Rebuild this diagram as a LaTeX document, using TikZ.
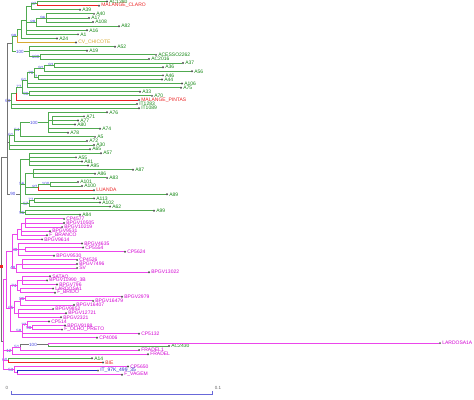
\documentclass[tikz,border=0pt]{standalone}
\usepackage{fontspec}
\newfontfamily\treefont{Liberation Sans}
\definecolor{brgreen}{RGB}{80,170,80}
\definecolor{txgreen}{RGB}{20,135,20}
\definecolor{brred}{RGB}{235,35,35}
\definecolor{brmag}{RGB}{235,70,235}
\definecolor{txmag}{RGB}{210,0,210}
\definecolor{brolive}{RGB}{215,170,50}
\definecolor{brblue}{RGB}{40,40,200}
\definecolor{bootblue}{RGB}{70,70,225}
\definecolor{rootgrey}{RGB}{115,115,115}
\begin{document}
\begin{tikzpicture}
	[x=1pt, y=-4.1pt,
	leaf/.style={circle,inner sep=0pt,minimum size=2.2pt,fill=black!70},
	gbr/.style={draw=brgreen,line width=0.9pt},
	rbr/.style={draw=brred,line width=0.9pt},
	mbr/.style={draw=brmag,line width=0.9pt},
	obr/.style={draw=brolive,line width=0.9pt},
	bbr/.style={draw=brblue,line width=0.9pt},
	rootbr/.style={draw=rootgrey,line width=0.9pt},
	gtx/.style={text=txgreen,font=\treefont\fontsize{5}{5}\selectfont,inner sep=0.2pt,label distance=0.6pt},
	rtx/.style={text=brred,font=\treefont\fontsize{5}{5}\selectfont,inner sep=0.2pt,label distance=0.6pt},
	mtx/.style={text=txmag,font=\treefont\fontsize{5}{5}\selectfont,inner sep=0.2pt,label distance=0.6pt},
	otx/.style={text=brolive,font=\treefont\fontsize{5}{5}\selectfont,inner sep=0.2pt,label distance=0.6pt},
	btx/.style={text=brblue,font=\treefont\fontsize{5}{5}\selectfont,inner sep=0.2pt,label distance=0.6pt},
	boot/.style={text=bootblue,font=\treefont\fontsize{4.5}{5}\selectfont,inner sep=0.3pt}]
	\useasboundingbox (0,0.61) rectangle (474,97.93);
	% leaves, green group
	\node (a1380) at (107,1) [leaf,label={[gtx]right:AC1380}] {};
	\node (mclaro) at (99,2) [leaf,label={[rtx]right:MALANGE\_CLARO}] {};
	\node (a39) at (80,3) [leaf,label={[gtx]right:A39}] {};
	\node (a40) at (94,4) [leaf,label={[gtx]right:A40}] {};
	\node (a17) at (89,5) [leaf,label={[gtx]right:A17}] {};
	\node (a108) at (93,6) [leaf,label={[gtx]right:A108}] {};
	\node (a82) at (119,7) [leaf,label={[gtx]right:A82}] {};
	\node (a16) at (87,8) [leaf,label={[gtx]right:A16}] {};
	\node (a1) at (78,9) [leaf,label={[gtx]right:A1}] {};
	\node (a24) at (57,10) [leaf,label={[gtx]right:A24}] {};
	\node (chicote) at (76,11) [leaf,label={[otx]right:CV\_CHICOTE}] {};
	\node (a52) at (115,12) [leaf,label={[gtx]right:A52}] {};
	\node (a19) at (87,13) [leaf,label={[gtx]right:A19}] {};
	\node (ac2262) at (156,14) [leaf,label={[gtx]right:ACESSO2262}] {};
	\node (ac2016) at (149,15) [leaf,label={[gtx]right:AC2016}] {};
	\node (a37) at (183,16) [leaf,label={[gtx]right:A37}] {};
	\node (a36) at (163,17) [leaf,label={[gtx]right:A36}] {};
	\node (a56) at (192,18) [leaf,label={[gtx]right:A56}] {};
	\node (a46) at (163,19) [leaf,label={[gtx]right:A46}] {};
	\node (a44) at (162,20) [leaf,label={[gtx]right:A44}] {};
	\node (a106) at (182,21) [leaf,label={[gtx]right:A106}] {};
	\node (a75) at (181,22) [leaf,label={[gtx]right:A75}] {};
	\node (a33) at (140,23) [leaf,label={[gtx]right:A33}] {};
	\node (a70) at (152,24) [leaf,label={[gtx]right:A70}] {};
	\node (mpintas) at (139,25) [leaf,label={[rtx]right:MALANGE\_PINTAS}] {};
	\node (it1283) at (137,26) [leaf,label={[gtx]right:IT1283}] {};
	\node (it1089) at (139,27) [leaf,label={[gtx]right:IT1089}] {};
	\node (a76) at (107,28) [leaf,label={[gtx]right:A76}] {};
	\node (a71) at (84,29) [leaf,label={[gtx]right:A71}] {};
	\node (a77) at (78,30) [leaf,label={[gtx]right:A77}] {};
	\node (a80) at (75,31) [leaf,label={[gtx]right:A80}] {};
	\node (a74) at (100,32) [leaf,label={[gtx]right:A74}] {};
	\node (a78) at (68,33) [leaf,label={[gtx]right:A78}] {};
	\node (a5) at (95,34) [leaf,label={[gtx]right:A5}] {};
	\node (a72) at (87,35) [leaf,label={[gtx]right:A72}] {};
	\node (a30) at (94,36) [leaf,label={[gtx]right:A30}] {};
	\node (a65) at (90,37) [leaf,label={[gtx]right:A65}] {};
	\node (a57) at (101,38) [leaf,label={[gtx]right:A57}] {};
	\node (a55) at (76,39) [leaf,label={[gtx]right:A55}] {};
	\node (a81) at (82,40) [leaf,label={[gtx]right:A81}] {};
	\node (a95) at (88,41) [leaf,label={[gtx]right:A95}] {};
	\node (a87) at (133,42) [leaf,label={[gtx]right:A87}] {};
	\node (a86) at (95,43) [leaf,label={[gtx]right:A86}] {};
	\node (a83) at (107,44) [leaf,label={[gtx]right:A83}] {};
	\node (a101) at (78,45) [leaf,label={[gtx]right:A101}] {};
	\node (a100) at (82,46) [leaf,label={[gtx]right:A100}] {};
	\node (luanda) at (94,47) [leaf,label={[rtx]right:LUANDA}] {};
	\node (a89) at (167,48) [leaf,label={[gtx]right:A89}] {};
	\node (a113) at (94,49) [leaf,label={[gtx]right:A113}] {};
	\node (a102) at (100,50) [leaf,label={[gtx]right:A102}] {};
	\node (a62) at (110,51) [leaf,label={[gtx]right:A62}] {};
	\node (a99) at (154,52) [leaf,label={[gtx]right:A99}] {};
	\node (a84) at (80,53) [leaf,label={[gtx]right:A84}] {};
	% leaves, magenta group
	\node (cp4577) at (64,54) [leaf,label={[mtx]right:CP4577}] {};
	\node (bp10505) at (64,55) [leaf,label={[mtx]right:BPGV10505}] {};
	\node (bp10219) at (62,56) [leaf,label={[mtx]right:BPGV10219}] {};
	\node (bp9531) at (50,57) [leaf,label={[mtx]right:BPGV9531}] {};
	\node (fbranco) at (47,58) [leaf,label={[mtx]right:F\_BRANCO}] {};
	\node (bp9614) at (42,59) [leaf,label={[mtx]right:BPGV9614}] {};
	\node (bp4635) at (82,60) [leaf,label={[mtx]right:BPGV4635}] {};
	\node (cp5554) at (83,61) [leaf,label={[mtx]right:CP5554}] {};
	\node (cp5624) at (125,62) [leaf,label={[mtx]right:CP5624}] {};
	\node (bp9530) at (54,63) [leaf,label={[mtx]right:BPGV9530}] {};
	\node (cp4526) at (77,64) [leaf,label={[mtx]right:CP4526}] {};
	\node (bp7496) at (77,65) [leaf,label={[mtx]right:BPGV7496}] {};
	\node (sv) at (77,66) [leaf,label={[mtx]right:SV}] {};
	\node (bp13022) at (149,67) [leaf,label={[mtx]right:BPGV13022}] {};
	\node (satao) at (50,68) [leaf,label={[mtx]right:SATAO}] {};
	\node (bp11990) at (47,69) [leaf,label={[mtx]right:BPGV11990\_3B}] {};
	\node (bp796) at (57,70) [leaf,label={[mtx]right:BPGV796}] {};
	\node (lardosa) at (53,71) [leaf,label={[mtx]right:LARDOSA1}] {};
	\node (fbrido) at (55,72) [leaf,label={[mtx]right:F\_BRIDO}] {};
	\node (bp2979) at (122,73) [leaf,label={[mtx]right:BPGV2979}] {};
	\node (bp16479) at (93,74) [leaf,label={[mtx]right:BPGV16479}] {};
	\node (bp16407) at (74,75) [leaf,label={[mtx]right:BPGV16407}] {};
	\node (bp9852) at (53,76) [leaf,label={[mtx]right:BPGV9852}] {};
	\node (bp12721) at (66,77) [leaf,label={[mtx]right:BPGV12721}] {};
	\node (bp2321) at (61,78) [leaf,label={[mtx]right:BPGV2321}] {};
	\node (cp514) at (49,79) [leaf,label={[mtx]right:CP514}] {};
	\node (bp9188) at (65,80) [leaf,label={[mtx]right:BPGV9188}] {};
	\node (folho) at (62,81) [leaf,label={[mtx]right:F\_OLHO\_PRETO}] {};
	\node (cp5132) at (139,82) [leaf,label={[mtx]right:CP5132}] {};
	\node (cp4006) at (97,83) [leaf,label={[mtx]right:CP4006}] {};
	\node (lardosa1a) at (440,84.3) [leaf,label={[mtx]right:LARDOSA1A}] {};
	\node (ac2430) at (169,85) [leaf,label={[gtx]right:AC2430}] {};
	\node (fradel1) at (139,86) [leaf,label={[mtx]right:FRADEL1}] {};
	\node (fradel) at (148,87) [leaf,label={[mtx]right:FRADEL}] {};
	\node (a14) at (92,88) [leaf,label={[gtx]right:A14}] {};
	\node (bie) at (103,89) [leaf,label={[rtx]right:BIE}] {};
	\node (cp5650) at (128,90) [leaf,label={[mtx]right:CP5650}] {};
	\node (it97k) at (98,91) [leaf,label={[btx]right:IT\_97K\_499\_35}] {};
	\node (fvagem) at (122,92) [leaf,label={[mtx]right:F\_VAGEM}] {};
	% inner nodes, green group
	\coordinate[label={[boot]left:87}] (nA) at (37,1.5);
	\coordinate (nB) at (31,2.25);
	\coordinate[label={[boot]left:96}] (nC) at (46,5);
	\coordinate[label={[boot]left:89}] (nD) at (36,6);
	\coordinate (nE) at (26,5.6);
	\coordinate (nF) at (21,7.8);
	\coordinate[label={[boot]left:99}] (nG) at (17,9.4);
	\coordinate[label={[boot]left:100}] (nH) at (40,14.5);
	\coordinate (nI) at (29,13.25);
	\coordinate (nJ) at (12,11.3);
	\coordinate[label={[boot]left:93}] (nK) at (54,16.5);
	\coordinate[label={[boot]left:92}] (nL) at (44,17.25);
	\coordinate[label={[boot]left:7}] (nN) at (38,19.5);
	\coordinate[label={[boot]left:70}] (nM) at (34,18.4);
	\coordinate[label={[boot]left:61}] (nO) at (27,20.2);
	\coordinate[label={[boot]left:90}] (nQ) at (29,23.5);
	\coordinate[label={[boot]left:77}] (nP) at (22,21.85);
	\coordinate (nR) at (16,23.4);
	\coordinate[label={[boot]left:63}] (nS) at (11,25.2);
	\coordinate (nU) at (52,30);
	\coordinate (nV) at (48,30.5);
	\coordinate[label={[boot]left:54}] (nW) at (20,32.25);
	\coordinate[label={[boot]left:61}] (nX) at (14,33.6);
	\coordinate (nY) at (9,35.3);
	\coordinate (nZ) at (29,39.5);
	\coordinate (na) at (33,43);
	\coordinate[label={[boot]left:100}] (nb) at (50,45.5);
	\coordinate[label={[boot]left:87}] (nc) at (38,46.25);
	\coordinate[label={[boot]left:56}] (nd) at (25,45.5);
	\coordinate[label={[boot]left:77}] (ne) at (34,49.5);
	\coordinate[label={[boot]left:57}] (nf) at (29,50.25);
	\coordinate[label={[boot]left:96}] (ng) at (25,52.5);
	\coordinate (nh) at (20,48);
	\coordinate (G) at (7,38.9);
	% inner nodes, magenta group
	\coordinate (mA) at (25,55);
	\coordinate (mB) at (21,56.5);
	\coordinate (mC) at (17,57.75);
	\coordinate (mD) at (25,61.5);
	\coordinate[label={[boot]left:88}] (mE) at (18,61.5);
	\coordinate (mF) at (22,65);
	\coordinate[label={[boot]left:48}] (mG) at (16,66);
	\coordinate (mH) at (12,61.9);
	\coordinate (mI) at (22,69);
	\coordinate (mJ) at (20,71.5);
	\coordinate[label={[boot]left:74}] (mK) at (17,70.25);
	\coordinate[label={[boot]left:86}] (mL) at (25,73.5);
	\coordinate (mM) at (20,74.25);
	\coordinate (mN) at (18,77);
	\coordinate[label={[boot]left:65}] (mO) at (14,75.6);
	\coordinate[label={[boot]left:98}] (mQ1) at (32,80.5);
	\coordinate[label={[boot]left:77}] (mQ) at (27,79.75);
	\coordinate[label={[boot]left:58}] (mR) at (22,81.4);
	\coordinate (mP) at (10,75.8);
	\coordinate (M1) at (6,68.85);
	\coordinate (mT) at (48,84.65);
	\coordinate[label={[boot]left:51}] (mU) at (20,85.3);
	\coordinate[label={[boot]left:12}] (mV) at (12,86.2);
	\coordinate[label={[boot]left:60}] (mW) at (8,88.5);
	\coordinate (mY) at (17,91.5);
	\coordinate[label={[boot]left:53}] (mX) at (14,90.75);
	\coordinate (Mt) at (3,84);
	\coordinate (R) at (1.5,38.9);
	% branches, green group
	\draw [gbr] (nA) |- (a1380);
	\draw [rbr] (nA) |- (mclaro);
	\draw [gbr] (nB) |- (nA) (nB) |- (a39);
	\draw [gbr] (nC) |- (a40) (nC) |- (a17) (nC) |- (a108);
	\draw [gbr] (nD) |- (nC) (nD) |- (a82);
	\draw [gbr] (nE) |- (nB) (nE) |- (nD) (nE) |- (a16) (nE) |- (a1);
	\draw [gbr] (nF) |- (nE) (nF) |- (a24);
	\draw [gbr] (nG) |- (nF);
	\draw [obr] (nG) |- (chicote);
	\draw [gbr] (nH) |- (ac2262) (nH) |- (ac2016);
	\draw [gbr] (nI) |- (a52) (nI) |- (a19) (nI) |- (nH);
	\draw [gbr] (nJ) |- (nG) (nJ) |- (nI);
	\draw [gbr] (nK) |- (a37) (nK) |- (a36);
	\draw [gbr] (nL) |- (nK) (nL) |- (a56);
	\draw [gbr] (nN) |- (a46) (nN) |- (a44);
	\draw [gbr] (nM) |- (nL) (nM) |- (nN);
	\draw [gbr] (nO) |- (nM) (nO) |- (a106) (nO) |- (a75);
	\draw [gbr] (nQ) |- (a33) (nQ) |- (a70);
	\draw [gbr] (nP) |- (nO) (nP) |- (nQ);
	\draw [gbr] (nR) |- (nP);
	\draw [rbr] (nR) |- (mpintas);
	\draw [gbr] (nS) |- (nR) (nS) |- (it1283) (nS) |- (it1089);
	\draw [gbr] (nU) |- (a71) (nU) |- (a77) (nU) |- (a80);
	\draw [gbr] (nV) |- (a76) (nV) |- (nU) (nV) |- (a74) (nV) |- (a78);
	\draw [gbr] (nW) |- (nV) (nW) |- (a5);
	\draw [gbr] (nX) |- (nW) (nX) |- (a72);
	\draw [gbr] (nY) |- (nX) (nY) |- (a30) (nY) |- (a65);
	\draw [gbr] (nZ) |- (a57) (nZ) |- (a55) (nZ) |- (a81) (nZ) |- (a95);
	\draw [gbr] (na) |- (a87) (na) |- (a86) (na) |- (a83);
	\draw [gbr] (nb) |- (a101) (nb) |- (a100);
	\draw [gbr] (nc) |- (nb);
	\draw [rbr] (nc) |- (luanda);
	\draw [gbr] (nd) |- (na) (nd) |- (nc) (nd) |- (a89);
	\draw [gbr] (ne) |- (a113) (ne) |- (a102);
	\draw [gbr] (nf) |- (ne) (nf) |- (a62);
	\draw [gbr] (ng) |- (a99) (ng) |- (a84);
	\draw [gbr] (nh) |- (nZ) (nh) |- (nd) (nh) |- (nf) (nh) |- (ng);
	\draw [rootbr] (G) |- (nJ) (G) |- (nS) (G) |- (nY) (G) |- (nh);
	% branches, magenta group
	\draw [mbr] (mA) |- (cp4577) (mA) |- (bp10505) (mA) |- (bp10219);
	\draw [mbr] (mB) |- (mA) (mB) |- (bp9531) (mB) |- (fbranco);
	\draw [mbr] (mC) |- (mB) (mC) |- (bp9614);
	\draw [mbr] (mD) |- (cp5554) (mD) |- (cp5624);
	\draw [mbr] (mE) |- (bp4635) (mE) |- (mD) (mE) |- (bp9530);
	\draw [mbr] (mF) |- (cp4526) (mF) |- (bp7496) (mF) |- (sv);
	\draw [mbr] (mG) |- (mF) (mG) |- (bp13022);
	\draw [mbr] (mH) |- (mC) (mH) |- (mE) (mH) |- (mG);
	\draw [mbr] (mI) |- (satao) (mI) |- (bp11990) (mI) |- (bp796);
	\draw [mbr] (mJ) |- (lardosa) (mJ) |- (fbrido);
	\draw [mbr] (mK) |- (mI) (mK) |- (mJ);
	\draw [mbr] (mL) |- (bp2979) (mL) |- (bp16479);
	\draw [mbr] (mM) |- (mL) (mM) |- (bp16407);
	\draw [mbr] (mN) |- (bp9852) (mN) |- (bp12721) (mN) |- (bp2321);
	\draw [mbr] (mO) |- (mM) (mO) |- (mN);
	\draw [mbr] (mQ1) |- (bp9188) (mQ1) |- (folho);
	\draw [mbr] (mQ) |- (cp514) (mQ) |- (mQ1);
	\draw [mbr] (mR) |- (mQ) (mR) |- (cp5132) (mR) |- (cp4006);
	\draw [mbr] (mP) |- (mK) (mP) |- (mO) (mP) |- (mR);
	\draw [mbr] (M1) |- (mH) (M1) |- (mP);
	\draw [mbr] (mT) |- (lardosa1a);
	\draw [gbr] (mT) |- (ac2430);
	\draw [rootbr] (mU) |- (mT);
	\draw [mbr] (mU) |- (fradel1);
	\draw [mbr] (mV) |- (mU) (mV) |- (fradel);
	\draw [gbr] (mW) |- (a14);
	\draw [rbr] (mW) |- (bie);
	\draw [bbr] (mY) |- (it97k);
	\draw [mbr] (mY) |- (fvagem);
	\draw [mbr] (mX) |- (cp5650) (mX) |- (mY);
	\draw [mbr] (Mt) |- (M1) (Mt) |- (mV) (Mt) |- (mW) (Mt) |- (mX);
	\draw [rootbr] (R) |- (G) (R) |- (Mt);
	\fill [brred] (0,65.2) rectangle (2.5,65.9);
	% labels sitting on branches
	\node (bI) at (20,13.25) [boot,fill=white] {100};
	\node (bV) at (34,30.5) [boot,fill=white] {100};
	\node (bh) at (13,48) [boot,fill=white] {90};
	\node (bT) at (33,84.65) [boot,fill=white] {100};
	% scale bar
	\coordinate (s0) at (11,96.7);
	\coordinate (s1) at (212,96.7);
	\draw [draw=brblue!70,line width=0.8pt] ([yshift=3pt]s0) -- (s0) -- (s1) -- ([yshift=3pt]s1);
	\node (t0) at (7,95.3) [text=black!60,font=\treefont\fontsize{4.5}{5}\selectfont] {0};
	\node (t1) at (218,95.3) [text=black!60,font=\treefont\fontsize{4.5}{5}\selectfont] {0.1};
\end{tikzpicture}
\end{document}
